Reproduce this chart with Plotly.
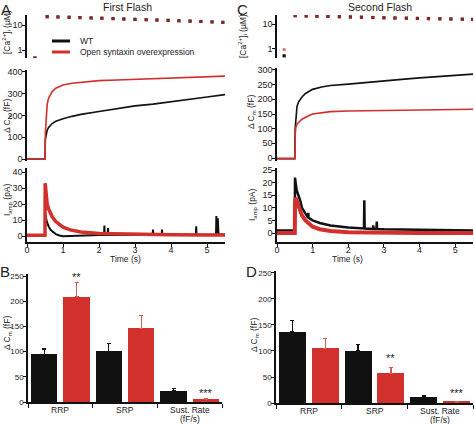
import plotly.graph_objects as go

W, H = 474, 424
def fx(px): return px / W
def fy(py): return 1 - py / H

BLACK = '#111111'
RED = '#d2302c'
FONT = 'Liberation Sans, Arial, sans-serif'

# ---------------- data ----------------
# [Ca2+]i (uM), first flash
ca_t_A = [0.22, 0.56, 0.86, 1.17, 1.47, 1.78, 2.08, 2.39, 2.69, 3.00, 3.31, 3.61, 3.92, 4.22, 4.53, 4.83, 5.14, 5.44]
ca_wt_A = [0.48, 21.5, 21.0, 20.4, 19.8, 19.2, 18.6, 18.0, 17.4, 16.8, 16.3, 15.8, 15.3, 14.8, 14.3, 13.8, 13.3, 12.8]
ca_os_A = [0.48, 21.5, 21.0, 20.4, 19.8, 19.2, 18.6, 18.0, 17.4, 16.8, 16.3, 15.8, 15.3, 14.8, 14.3, 13.8, 13.3, 12.8]
# second flash
ca_t_C = [0.20, 0.51, 0.82, 1.12, 1.43, 1.75, 2.06, 2.37, 2.69, 3.00, 3.31, 3.63, 3.94, 4.25, 4.57, 4.88, 5.20, 5.49]
ca_wt_C = [0.50, 22.0, 21.5, 21.0, 20.5, 20.0, 19.5, 19.0, 18.5, 18.0, 17.7, 17.4, 17.0, 16.7, 16.4, 16.1, 15.8, 15.5]
ca_os_C = [0.90, 22.0, 21.5, 21.0, 20.5, 20.0, 19.5, 19.0, 18.5, 18.0, 17.7, 17.4, 17.0, 16.7, 16.4, 16.1, 15.8, 15.5]

# Delta Cm (fF)
cm_t = [0, 0.49, 0.5, 0.51, 0.53, 0.56, 0.6, 0.65, 0.7, 0.8, 0.9, 1.0, 1.25, 1.5, 2.0, 2.5, 3.0, 3.5, 4.0, 4.5, 5.0, 5.5]
cm_wt_A = [0, 0, 0, 90, 115, 132, 145, 155, 163, 173, 180, 185, 196, 205, 218, 232, 244, 252, 262, 272, 285, 296]
cm_os_A = [0, 0, 0, 120, 200, 250, 280, 298, 310, 325, 334, 340, 348, 353, 360, 363, 366, 370, 374, 377, 379, 381]
cm_wt_C = [-2, -2, -2, 100, 150, 175, 190, 200, 208, 220, 228, 234, 242, 247, 252, 258, 263, 268, 273, 277, 282, 286]
cm_os_C = [-2, -2, -2, 80, 105, 115, 122, 127, 132, 140, 145, 150, 155, 158, 160, 161, 162, 163, 164, 165, 166, 166]

# Iamp (pA)
ia_t_wt_A = [0, 0.5, 0.505, 0.52, 0.55, 0.6, 0.65, 0.7, 0.8, 0.9, 1.0, 1.2, 1.5, 2.0, 2.14, 2.15, 2.16, 2.24, 2.25, 2.26,
             3.0, 3.49, 3.5, 3.51, 3.74, 3.75, 3.76, 4.69, 4.7, 4.71, 5.25, 5.26, 5.28, 5.3, 5.32, 5.5]
ia_wt_A = [0.5, 0.5, 14, 12, 9, 6, 4, 3, 1.2, 0.3, -0.2, 0.0, 0.4, 0.7, 0.7, 6.5, 0.7, 0.7, 5, 0.7,
           0.8, 0.8, 4, 0.8, 0.8, 4, 0.8, 0.8, 6, 0.8, 0.8, 12.5, 1, 11, 1, 1]
ia_t_os_A = [0, 0.5, 0.505, 0.515, 0.53, 0.56, 0.6, 0.65, 0.7, 0.8, 0.9, 1.0, 1.2, 1.5, 2.0, 3.0, 4.0, 5.0, 5.5]
ia_os_A = [0.5, 0.5, 33, 29, 24, 20, 17, 14, 12, 9, 7, 5.5, 3.8, 2.5, 1.5, 1.0, 0.8, 0.7, 0.7]

ia_t_wt_C = [0, 0.5, 0.505, 0.52, 0.55, 0.6, 0.65, 0.7, 0.8, 0.875, 0.88, 0.885, 1.0, 1.2, 1.5, 2.0, 2.44, 2.45, 2.46,
             2.69, 2.7, 2.71, 2.79, 2.8, 2.81, 3.0, 4.0, 5.0, 5.5]
ia_wt_C = [1, 1, 22, 19, 17, 15, 13, 10, 7.5, 6, 8, 6, 5, 4, 3, 2.2, 1.8, 13, 1.8,
           1.6, 3, 1.6, 1.6, 4.5, 1.6, 1.5, 1.2, 1.1, 1.0]
ia_t_os_C = [0, 0.5, 0.505, 0.52, 0.55, 0.6, 0.7, 0.8, 0.9, 1.0, 1.2, 1.5, 2.0, 3.0, 4.0, 5.0, 5.5]
ia_os_C = [0, 0, 12, 14, 13, 11, 7, 5, 3.5, 2.5, 1.5, 0.8, 0.3, 0, 0, 0, 0]

# Bar summaries
bar_x_wt = [0.5, 2.5, 4.5]
bar_x_os = [1.5, 3.5, 5.5]
cat_x = [1, 3, 5]
categories = ['RRP', 'SRP', 'Sust. Rate']
cat_sub = ['', '', '(fF/s)']
B_wt = [95, 101, 22]
B_wt_err = [10, 15, 5]
B_os = [209, 146, 5]
B_os_err = [28, 25, 2]
D_wt = [137, 100, 12]
D_wt_err = [22, 13, 3]
D_os = [105, 57, 2]
D_os_err = [19, 11, 1.5]

# ---------------- figure ----------------
fig = go.Figure()

def ca_traces(t, wt, os_, xa, ya):
    fig.add_trace(go.Scatter(x=t, y=wt, mode='markers', marker=dict(symbol='square', size=3.2, color=BLACK),
                             xaxis=xa, yaxis=ya, showlegend=False))
    fig.add_trace(go.Scatter(x=t, y=os_, mode='markers', marker=dict(symbol='square', size=3, color=RED, opacity=0.65),
                             xaxis=xa, yaxis=ya, showlegend=False))

ca_traces(ca_t_A, ca_wt_A, ca_os_A, 'x', 'y')
ca_traces(ca_t_C, ca_wt_C, ca_os_C, 'x4', 'y4')

def cm_traces(wt, os_, xa, ya):
    fig.add_trace(go.Scatter(x=cm_t, y=wt, mode='lines', line=dict(color=BLACK, width=1.6),
                             xaxis=xa, yaxis=ya, showlegend=False))
    fig.add_trace(go.Scatter(x=cm_t, y=os_, mode='lines', line=dict(color=RED, width=1.6),
                             xaxis=xa, yaxis=ya, showlegend=False))

cm_traces(cm_wt_A, cm_os_A, 'x2', 'y2')
cm_traces(cm_wt_C, cm_os_C, 'x5', 'y5')

fig.add_trace(go.Scatter(x=ia_t_wt_A, y=ia_wt_A, mode='lines', line=dict(color=BLACK, width=2),
                         xaxis='x3', yaxis='y3', showlegend=False))
fig.add_trace(go.Scatter(x=ia_t_os_A, y=ia_os_A, mode='lines', line=dict(color=RED, width=3.5),
                         xaxis='x3', yaxis='y3', showlegend=False))
fig.add_trace(go.Scatter(x=ia_t_wt_C, y=ia_wt_C, mode='lines', line=dict(color=BLACK, width=2.5),
                         xaxis='x6', yaxis='y6', showlegend=False))
fig.add_trace(go.Scatter(x=ia_t_os_C, y=ia_os_C, mode='lines', line=dict(color=RED, width=4),
                         xaxis='x6', yaxis='y6', showlegend=False))

def bars(wt, wte, os_, ose, xa, ya):
    fig.add_trace(go.Bar(x=bar_x_wt, y=wt, width=0.82, marker=dict(color=BLACK, line=dict(width=0)),
                         error_y=dict(type='data', array=wte, arrayminus=[0]*3, color=BLACK, thickness=1.2, width=2),
                         xaxis=xa, yaxis=ya, showlegend=False))
    fig.add_trace(go.Bar(x=bar_x_os, y=os_, width=0.82, marker=dict(color=RED, line=dict(width=0)),
                         error_y=dict(type='data', array=ose, arrayminus=[0]*3, color='#d85a55', thickness=1.2, width=2),
                         xaxis=xa, yaxis=ya, showlegend=False))

bars(B_wt, B_wt_err, B_os, B_os_err, 'x7', 'y7')
bars(D_wt, D_wt_err, D_os, D_os_err, 'x8', 'y8')

tickfont = dict(size=9, color='#222', family=FONT)
base = dict(showline=True, linecolor=BLACK, linewidth=1.5, ticks='outside', ticklen=3, tickwidth=1.2,
            tickcolor=BLACK, tickfont=tickfont, showgrid=False, zeroline=False, fixedrange=True,
            automargin=False, ticklabelstandoff=-2)
tx = dict(base, ticklabelstandoff=-5)
hidden_x = dict(visible=False, showgrid=False, zeroline=False, automargin=False)
bar_x = dict(base, ticklen=4, showticklabels=False)
bar_y = dict(base, tickfont=dict(size=8, color='#222', family=FONT))

A_dom = [fx(27), fx(225)]
C_dom = [fx(277), fx(473)]

layout = dict(
    width=W, height=H, margin=dict(l=0, r=0, t=0, b=0, autoexpand=False),
    paper_bgcolor='white', plot_bgcolor='white', bargap=0,
    font=dict(family=FONT, color='#222'),
    xaxis=dict(domain=A_dom, range=[0, 5.5], anchor='y', **hidden_x),
    yaxis=dict(domain=[fy(58), fy(15)], type='log', range=[-0.32, 1.4], tickvals=[1, 10], anchor='x', **base),
    xaxis2=dict(domain=A_dom, range=[0, 5.5], anchor='y2', **hidden_x),
    yaxis2=dict(domain=[fy(161), fy(70)], range=[-9.2, 409], tickvals=[0, 100, 200, 300, 400], anchor='x2', **base),
    xaxis3=dict(domain=A_dom, range=[0, 5.5], anchor='y3', tickvals=[0, 1, 2, 3, 4, 5], **tx),
    yaxis3=dict(domain=[fy(242), fy(168)], range=[-3.75, 42.5], tickvals=[0, 10, 20, 30, 40], anchor='x3', **base),
    xaxis4=dict(domain=C_dom, range=[0, 5.5], anchor='y4', **hidden_x),
    yaxis4=dict(domain=[fy(58), fy(15)], type='log', range=[-0.39, 1.37], tickvals=[1, 10], anchor='x4', **base),
    xaxis5=dict(domain=C_dom, range=[0, 5.5], anchor='y5', **hidden_x),
    yaxis5=dict(domain=[fy(161), fy(68)], range=[-10.2, 306.8], tickvals=[0, 50, 100, 150, 200, 250, 300], anchor='x5', **base),
    xaxis6=dict(domain=C_dom, range=[0, 5.5], anchor='y6', tickvals=[0, 1, 2, 3, 4, 5], **tx),
    yaxis6=dict(domain=[fy(242), fy(168)], range=[-3.57, 25.8], tickvals=[0, 5, 10, 15, 20, 25], anchor='x6', **base),
    xaxis7=dict(domain=[fx(28), fx(222)], range=[0, 6], anchor='y7', tickvals=[0, 2, 4, 6], **bar_x),
    yaxis7=dict(domain=[fy(402), fy(274)], range=[0, 254], tickvals=[0, 50, 100, 150, 200, 250], anchor='x7', **bar_y),
    xaxis8=dict(domain=[fx(276), fx(473)], range=[0, 6], anchor='y8', tickvals=[0, 2, 4, 6], **bar_x),
    yaxis8=dict(domain=[fy(403), fy(271)], range=[0, 253.8], tickvals=[0, 50, 100, 150, 200, 250], anchor='x8', **bar_y),
)
fig.update_layout(**layout)

ann = []
def txt(x, y, s, size=9, angle=0, xanchor='center', yanchor='middle', color='#222'):
    ann.append(dict(x=fx(x), y=fy(y), xref='paper', yref='paper', text=s, showarrow=False,
                    textangle=angle, xanchor=xanchor, yanchor=yanchor,
                    font=dict(size=size, color=color, family=FONT)))

# panel letters and titles
txt(6, 9, 'A', 15)
txt(243, 9, 'C', 15)
txt(5, 271, 'B', 15)
txt(252, 271, 'D', 15)
txt(127, 7, 'First Flash', 10.5)
txt(380, 7, 'Second Flash', 10.5)

# y-axis titles
ca_title = '[Ca<sup>2+</sup>]<sub>i</sub> (µM)'
cm_title = 'Δ C<sub>m</sub> (fF)'
ia_title = 'I<sub>amp</sub> (pA)'
txt(7, 32, ca_title, 8.5, -90)
txt(7, 116, cm_title, 8.5, -90)
txt(7, 200, ia_title, 8.5, -90)
txt(243, 36, ca_title, 8.5, -90)
txt(252, 112, cm_title, 8.5, -90)
txt(252, 204, ia_title, 8.5, -90)
txt(7, 333, cm_title, 8.5, -90)
txt(254, 335, cm_title, 8.5, -90)

# time labels
txt(126, 259, 'Time (s)', 8.5)
txt(347, 259, 'Time (s)', 8.5)

# legend
fig.add_shape(type='line', xref='paper', yref='paper', x0=fx(52), x1=fx(70), y0=fy(41), y1=fy(41),
              line=dict(color=BLACK, width=3))
fig.add_shape(type='line', xref='paper', yref='paper', x0=fx(52), x1=fx(70), y0=fy(52), y1=fy(52),
              line=dict(color=RED, width=3))
txt(78, 41, 'WT', 8.5, xanchor='left')
txt(78, 52, 'Open syntaxin overexpression', 8.5, xanchor='left')

# category labels
for xa, yl in (('x7', 410), ('x8', 411)):
    for cx, c, sub in zip(cat_x, categories, cat_sub):
        ann.append(dict(x=cx, y=fy(yl), xref=xa, yref='paper', text=c, showarrow=False,
                        xanchor='center', yanchor='middle', font=dict(size=8.5, color='#222', family=FONT)))
        if sub:
            ann.append(dict(x=cx, y=fy(yl + 9), xref=xa, yref='paper', text=sub, showarrow=False,
                            xanchor='center', yanchor='middle', font=dict(size=8.5, color='#222', family=FONT)))

# significance stars
for xa, sx, sy, s in (('x7', 1.5, 277, '**'), ('x7', 5.5, 393, '***'),
                      ('x8', 3.5, 358, '**'), ('x8', 5.5, 393, '***')):
    ann.append(dict(x=sx, y=fy(sy), xref=xa, yref='paper', text=s, showarrow=False,
                    xanchor='center', yanchor='middle', font=dict(size=11, color='#222', family=FONT)))

fig.update_layout(annotations=ann)
fig.write_html('out.html')
